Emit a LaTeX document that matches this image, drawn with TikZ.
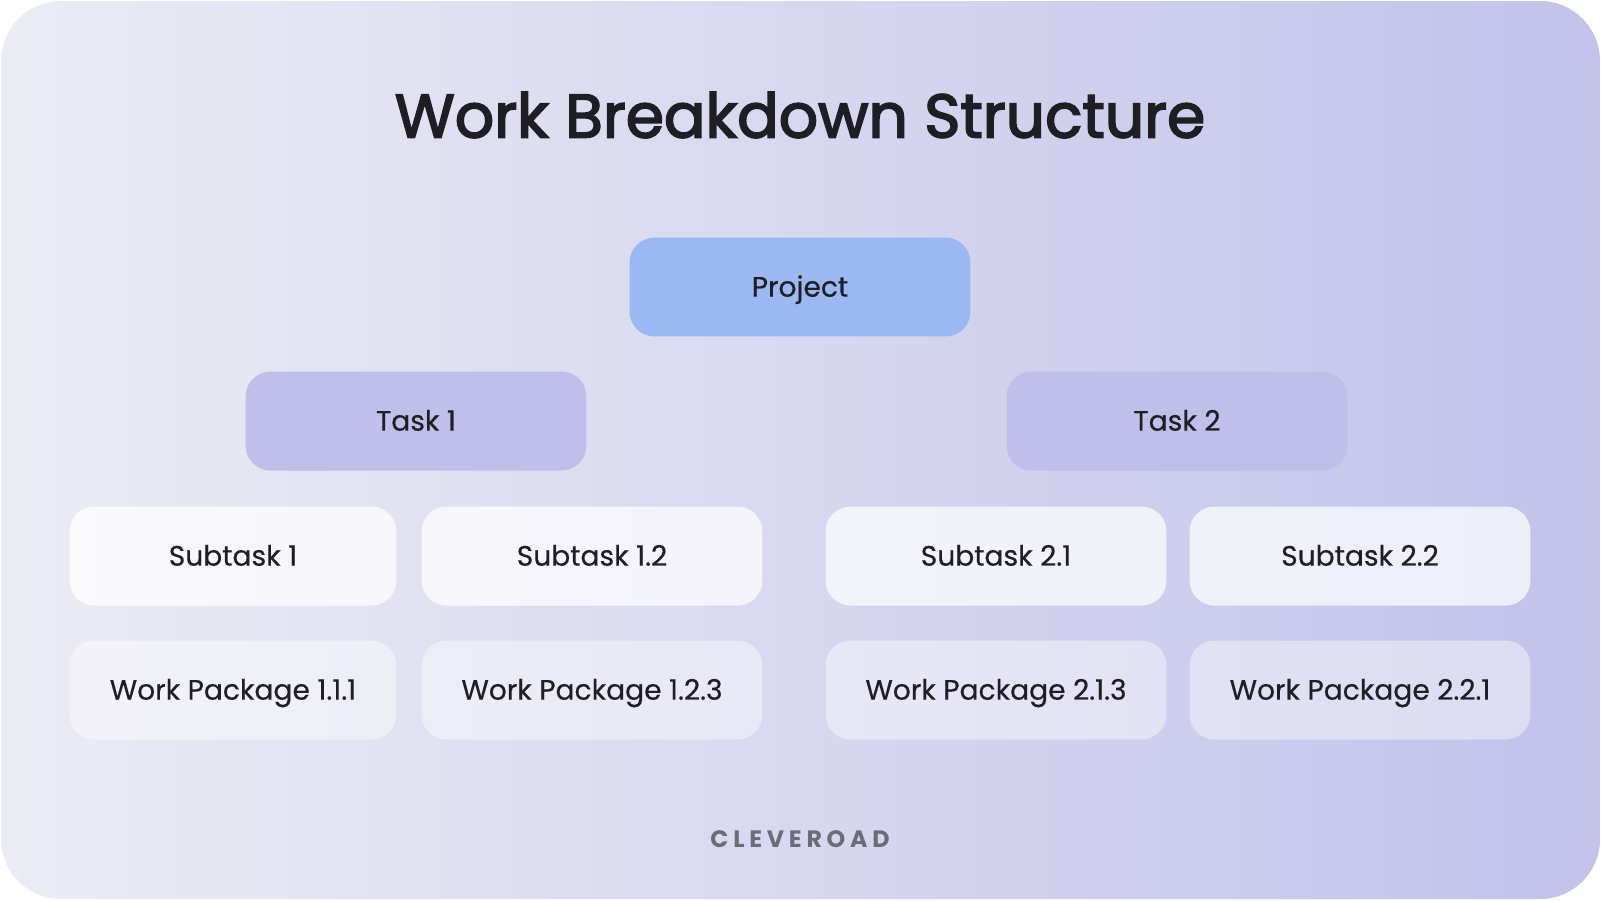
\documentclass[tikz,border=0pt]{standalone}
\usepackage{fontspec}
\setmainfont{Poppins}
\newfontfamily\titlefont{Poppins}[FakeBold=2.8]
\newfontfamily\boxfont{Poppins}[FakeBold=0.4]
\usetikzlibrary{positioning}

\definecolor{bgleft}{HTML}{ECECF5}
\definecolor{bgright}{HTML}{C2C2EA}
\definecolor{projectblue}{HTML}{9BB8F2}
\definecolor{taskviolet}{HTML}{BFBFE9}
\definecolor{inkdark}{HTML}{1E1E24}
\definecolor{logogrey}{HTML}{6C6C78}

\tikzset{
  wbsbox/.style={rounded corners=0.5cm, minimum width=6.82cm, minimum height=1.98cm,
    text=inkdark, font=\boxfont\fontsize{16}{18}\selectfont, inner sep=0pt,
    text height=11pt, text depth=0pt},
  projectbox/.style={wbsbox, fill=projectblue},
  taskbox/.style={wbsbox, fill=taskviolet},
  subbox/.style={wbsbox, fill=white, fill opacity=0.72, text opacity=1},
  packbox/.style={wbsbox, fill=white, fill opacity=0.42, text opacity=1}
}

\begin{document}
\begin{tikzpicture}[x=0.02cm, y=-0.02cm]
        \useasboundingbox (0,0) rectangle (1601,900);
        \fill[white] (0,0) rectangle (1601,900);
        \shade[rounded corners=1.2cm, left color=bgleft, right color=bgright] (1,1) rectangle (1600,899);
        \node[font=\titlefont\fontsize{35}{40}\selectfont, text=inkdark] (title) at (800,115) {Work Breakdown Structure};
        \node[projectbox] (project) at (800,287) {Project};
        \node[taskbox] (task1) at (416,421) {Task 1};
        \node[taskbox] (task2) at (1177,421) {Task 2};
        \node[subbox, minimum width=6.54cm] (sub11) at (233,556) {Subtask 1};
        \node[subbox] (sub12) at (592,556) {Subtask 1.2};
        \node[subbox] (sub21) at (996,556) {Subtask 2.1};
        \node[subbox] (sub22) at (1360,556) {Subtask 2.2};
        \node[packbox, minimum width=6.54cm] (wp111) at (233,690) {Work Package 1.1.1};
        \node[packbox] (wp123) at (592,690) {Work Package 1.2.3};
        \node[packbox] (wp213) at (996,690) {Work Package 2.1.3};
        \node[packbox] (wp221) at (1360,690) {Work Package 2.2.1};
        \node[font=\fontsize{13.5}{15}\selectfont\bfseries\addfontfeatures{LetterSpace=20}, text=logogrey] (logo) at (800,839) {CLEVEROAD};
\end{tikzpicture}
\end{document}
